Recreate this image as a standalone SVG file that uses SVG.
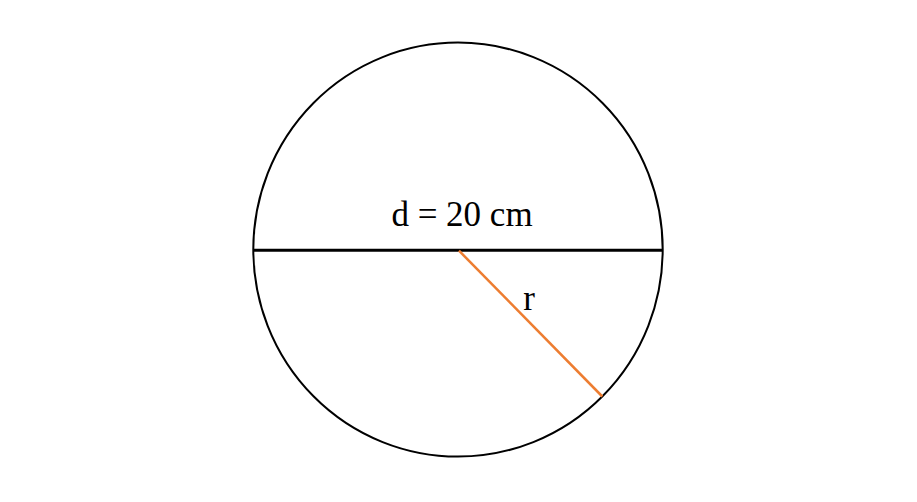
<svg xmlns="http://www.w3.org/2000/svg" width="917" height="502" viewBox="0 0 917 502">
<style>
.lbl{font-family:"Liberation Serif","Times New Roman",serif;font-size:35px;fill:#000}
</style>
<rect width="917" height="502" fill="#fff"/>
<g id="circle">
<ellipse cx="458" cy="249.6" rx="204.7" ry="207" fill="none" stroke="#000" stroke-width="2"/>
</g>
<g id="connectors">
<line id="diameter" x1="253" y1="250.2" x2="663" y2="250.2" stroke="#000" stroke-width="3"/>
<line id="radius" x1="459" y1="250.7" x2="602.3" y2="396.5" stroke="#ED7D31" stroke-width="2.5"/>
</g>
<g id="labels">
<text class="lbl" x="462" y="225.7" text-anchor="middle">d = 20 cm</text>
<text class="lbl" x="529" y="310" text-anchor="middle">r</text>
</g>
</svg>
